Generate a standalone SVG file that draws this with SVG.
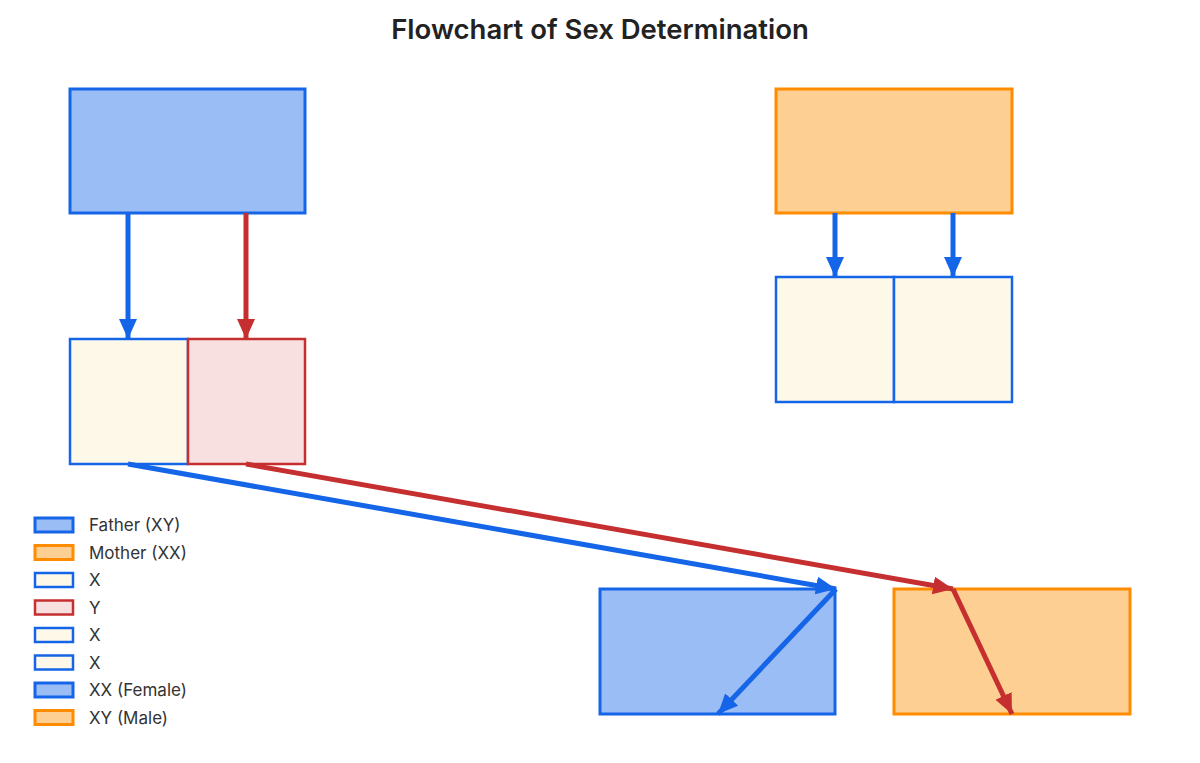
<svg xmlns="http://www.w3.org/2000/svg" width="1200" height="763" viewBox="0 0 1200 763">
<style>
.title{font-family:Inter,"Liberation Sans",sans-serif;font-weight:600;font-size:27.5px;fill:#222}
.lg{font-family:Inter,"Liberation Sans",sans-serif;font-size:17px;fill:#333}
.par-f{fill:#9bbdf5;stroke:#1565e8;stroke-width:3}
.par-m{fill:#fecf92;stroke:#ff8c00;stroke-width:3}
.x{fill:#fef8e8;stroke:#1565e8;stroke-width:2.5}
.y{fill:#f8e0e0;stroke:#c62f2f;stroke-width:2.5}
.ab{stroke:#1565e8;stroke-width:5;fill:none}
.ar{stroke:#c62f2f;stroke-width:5;fill:none}
</style>
<defs>
<marker id="hb" viewBox="0 0 20 18" markerWidth="20" markerHeight="18" refX="20" refY="9" orient="auto" markerUnits="userSpaceOnUse"><path d="M0,0 L20,9 L0,18 z" fill="#1565e8"/></marker>
<marker id="hr" viewBox="0 0 20 18" markerWidth="20" markerHeight="18" refX="20" refY="9" orient="auto" markerUnits="userSpaceOnUse"><path d="M0,0 L20,9 L0,18 z" fill="#c62f2f"/></marker>
</defs>
<rect width="1200" height="763" fill="#fff"/>
<text class="title" x="600" y="39" text-anchor="middle">Flowchart of Sex Determination</text>
<g id="father"><rect class="par-f" x="70" y="89" width="235" height="124"/></g>
<g id="father-x"><rect class="x" x="70" y="339" width="118" height="125"/></g>
<g id="father-y"><rect class="y" x="188" y="339" width="117" height="125"/></g>
<g id="mother"><rect class="par-m" x="776" y="89" width="236" height="124"/></g>
<g id="mother-x1"><rect class="x" x="776" y="277" width="118" height="125"/></g>
<g id="mother-x2"><rect class="x" x="894" y="277" width="118" height="125"/></g>
<g id="female"><rect class="par-f" x="600" y="589" width="235" height="125"/></g>
<g id="male"><rect class="par-m" x="894" y="589" width="236" height="125"/></g>
<g id="connectors">
<line class="ab" x1="128" y1="213" x2="128" y2="339" marker-end="url(#hb)"/>
<line class="ar" x1="246" y1="213" x2="246" y2="339" marker-end="url(#hr)"/>
<line class="ab" x1="835" y1="213" x2="835" y2="277" marker-end="url(#hb)"/>
<line class="ab" x1="953" y1="213" x2="953" y2="277" marker-end="url(#hb)"/>
<line class="ab" x1="128" y1="464" x2="836" y2="589" marker-end="url(#hb)"/>
<line class="ar" x1="246" y1="464" x2="953" y2="589" marker-end="url(#hr)"/>
<line class="ab" x1="836" y1="589" x2="718" y2="714" marker-end="url(#hb)"/>
<line class="ar" x1="953" y1="589" x2="1012" y2="714" marker-end="url(#hr)"/>
</g>
<g id="legend">
<rect class="par-f" x="35" y="518" width="38" height="14"/><text class="lg" x="89" y="531">Father (XY)</text>
<rect class="par-m" x="35" y="545.5" width="38" height="14"/><text class="lg" x="89" y="558.5">Mother (XX)</text>
<rect class="x" x="35" y="573" width="38" height="14"/><text class="lg" x="89" y="586">X</text>
<rect class="y" x="35" y="600.5" width="38" height="14"/><text class="lg" x="89" y="613.5">Y</text>
<rect class="x" x="35" y="628" width="38" height="14"/><text class="lg" x="89" y="641">X</text>
<rect class="x" x="35" y="655.5" width="38" height="14"/><text class="lg" x="89" y="668.5">X</text>
<rect class="par-f" x="35" y="683" width="38" height="14"/><text class="lg" x="89" y="696">XX (Female)</text>
<rect class="par-m" x="35" y="710.5" width="38" height="14"/><text class="lg" x="89" y="723.5">XY (Male)</text>
</g>
</svg>
